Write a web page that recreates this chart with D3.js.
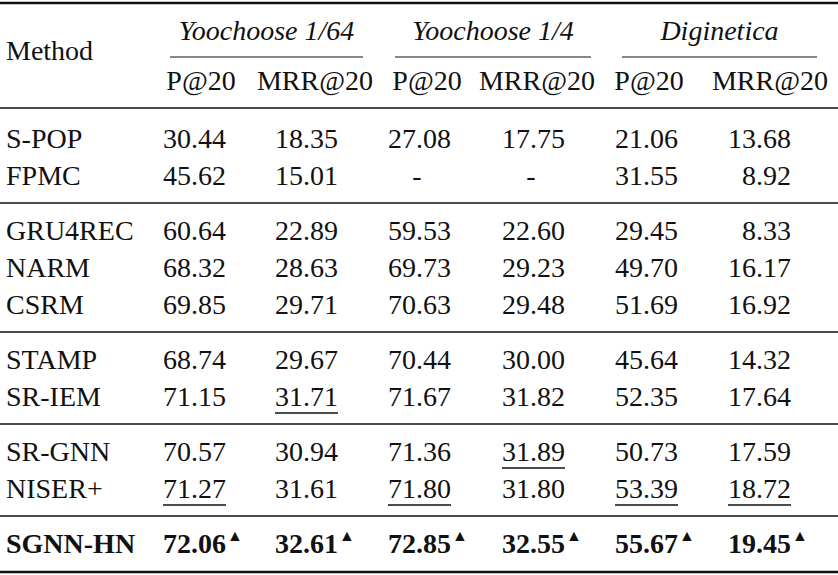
<!DOCTYPE html>
<html>
<head>
<meta charset="utf-8">
<script src="https://cdn.jsdelivr.net/npm/d3@7"></script>
<style>
body{margin:0;background:#fff;}
text{font-family:"Liberation Serif","DejaVu Serif",serif;fill:#111;}
</style>
</head>
<body>
<svg id="tbl" width="838" height="575"></svg>
<script>
// table data
var datasets = ["Yoochoose 1/64","Yoochoose 1/4","Diginetica"];
var metrics = ["P@20","MRR@20","P@20","MRR@20","P@20","MRR@20"];
var methods = ["S-POP","FPMC","GRU4REC","NARM","CSRM","STAMP","SR-IEM","SR-GNN","NISER+","SGNN-HN"];
var groupOf = [0,0,1,1,1,2,2,3,3,4];
var values = [
    ["30.44","18.35","27.08","17.75","21.06","13.68"],
    ["45.62","15.01","-","-","31.55","8.92"],
    ["60.64","22.89","59.53","22.60","29.45","8.33"],
    ["68.32","28.63","69.73","29.23","49.70","16.17"],
    ["69.85","29.71","70.63","29.48","51.69","16.92"],
    ["68.74","29.67","70.44","30.00","45.64","14.32"],
    ["71.15","31.71","71.67","31.82","52.35","17.64"],
    ["70.57","30.94","71.36","31.89","50.73","17.59"],
    ["71.27","31.61","71.80","31.80","53.39","18.72"],
    ["72.06","32.61","72.85","32.55","55.67","19.45"]
];
// second best (underlined): [row, col]
var underlined = [[6,1],[7,3],[8,0],[8,2],[8,4],[8,5]];

var svg = d3.select("#tbl");
var fs = 28;

var colRight = [226,338,451,565,678,791];
var colHead = [201,315,427,537,649,770];
var groupSpan = [[170,363],[395,591],[622,817]];

var rowY = function(i){
    var g = groupOf[i];
    return 148 + i*37 + g*(18);
};

// rules
function rule(y,w){
    svg.append("line").attr("x1",0).attr("x2",838).attr("y1",y).attr("y2",y)
        .attr("stroke","#111").attr("stroke-width",w);
}
rule(3,2.5);
rule(108,1.3);
[1,4,6,8].forEach(function(i){ rule(rowY(i)+18,1.3); });
rule(572,2.5);

// header
svg.append("text").attr("x",6).attr("y",60).attr("font-size",fs).text("Method");
datasets.forEach(function(d,i){
    var s = groupSpan[i];
    svg.append("text").attr("x",(s[0]+s[1])/2).attr("y",40)
        .attr("text-anchor","middle").attr("font-size",fs).attr("font-style","italic").text(d);
    svg.append("line").attr("x1",s[0]).attr("x2",s[1]).attr("y1",57).attr("y2",57)
        .attr("stroke","#111").attr("stroke-width",1.2);
});
metrics.forEach(function(m,j){
    svg.append("text").attr("x",colHead[j]).attr("y",90)
        .attr("text-anchor","middle").attr("font-size",fs).text(m);
});

// body
methods.forEach(function(m,i){
    var y = rowY(i);
    var bold = (i == methods.length-1);
    svg.append("text").attr("x",6).attr("y",y).attr("font-size",fs)
        .attr("font-weight",bold?"bold":"normal").text(m);
    values[i].forEach(function(v,j){
        if(v == "-"){
            svg.append("text").attr("x",colRight[j]-34).attr("y",y)
                .attr("text-anchor","middle").attr("font-size",fs).text("-");
            return;
        }
        var t = svg.append("text").attr("x",colRight[j]).attr("y",y)
            .attr("text-anchor","end").attr("font-size",fs)
            .attr("font-weight",bold?"bold":"normal").text(v);
        if(bold){
            svg.append("text").attr("x",colRight[j]+1).attr("y",y-12)
                .attr("font-size",16).text("\u25B2");
        }
        var isU = underlined.some(function(u){ return u[0]==i && u[1]==j; });
        if(isU){
            var w = t.node().getComputedTextLength();
            svg.append("line").attr("x1",colRight[j]-w).attr("x2",colRight[j])
                .attr("y1",y+7).attr("y2",y+7).attr("stroke","#111").attr("stroke-width",1.4);
        }
    });
});
</script>
</body>
</html>
